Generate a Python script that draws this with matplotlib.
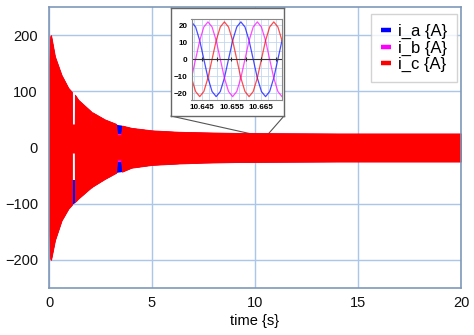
import numpy as np
import matplotlib
matplotlib.use("Agg")
import matplotlib.pyplot as plt
from matplotlib.lines import Line2D
from matplotlib.patches import ConnectionPatch
from matplotlib.ticker import MultipleLocator

plt.rcParams['font.family'] = ['Liberation Sans', 'DejaVu Sans']

# envelope of the phase currents (A) over time (s)
env_t = [0.0, 0.06, 0.1, 0.29, 0.61, 0.94, 1.11, 1.12, 1.25, 1.26, 1.42, 2.05,
         2.06, 2.08, 2.09, 2.71, 3.26, 3.30, 3.50, 3.55, 4.0, 5.0, 6.3, 7.5,
         9.0, 11.0, 14.0, 17.0, 20.0]

red_top = [140, 198, 200, 162, 129, 106, 99, 41, 41, 94, 85, 64, 41, 41, 63,
           50, 42, 22, 22, 39, 35, 30.5, 28, 27, 26, 25.5, 25, 25, 25]
red_bot = [-140, -198, -200, -165, -130, -109, -102, -9, -9, -97, -91, -71,
           -71, -71, -70, -56, -45, -21, -21, -43, -36, -31, -28.5, -27, -26,
           -25.5, -25, -25, -25]

blue_top = [140, 198, 200, 162, 129, 106, 99, 41, 41, 94, 85, 64, 41, 41, 63,
            50, 42, 41, 40, 39, 35, 30.5, 28, 27, 26, 25.5, 25, 25, 25]
blue_bot = [-140, -198, -200, -165, -130, -109, -102, -101, -98, -97, -91, -71,
            -71, -71, -70, -56, -45, -44, -43, -43, -36, -31, -28.5, -27, -26,
            -25.5, -25, -25, -25]

mag_top = [140, 198, 200, 162, 129, 106, 99, 41, 41, 94, 85, 64, 41, 41, 63,
           50, 42, 25, 25, 39, 35, 30.5, 28, 27, 26, 25.5, 25, 25, 25]
mag_bot = [-140, -198, -200, -165, -130, -109, -102, -9, -9, -97, -91, -71,
           -71, -71, -70, -56, -45, -25, -25, -43, -36, -31, -28.5, -27, -26,
           -25.5, -25, -25, -25]

# short dropout in the lower half around t = 1.2 s
gap_t = [1.12, 1.25]
gap_top = [-9, -9]
gap_bot = [-58, -58]

# zoomed window, one sample every 30 degrees of the 60 Hz cycle
zoom_t = np.linspace(10.6415, 10.6721, 23)
zoom_a = [22, 19, 11, 0, -11, -19, -22, -19, -11, 0, 11, 19, 22, 19, 11, 0,
          -11, -19, -22, -19, -11, 0, 11]
zoom_b = [-11, 0, 11, 19, 22, 19, 11, 0, -11, -19, -22, -19, -11, 0, 11, 19,
          22, 19, 11, 0, -11, -19, -22]
zoom_c = [-11, -19, -22, -19, -11, 0, 11, 19, 22, 19, 11, 0, -11, -19, -22,
          -19, -11, 0, 11, 19, 22, 19, 11]
zoom_ticks = [10.645, 10.65, 10.655, 10.66, 10.665, 10.67]

names = ['i_a {A}', 'i_b {A}', 'i_c {A}']
colors = ['#0000ff', '#ff00ff', '#ff0000']

fig = plt.figure(figsize=(4.74, 3.35), dpi=100)
ax = fig.add_axes([49 / 474, 1 - 288 / 335, 412 / 474, 281 / 335])

ax.fill_between(env_t, blue_bot, blue_top, color=colors[0], lw=0, zorder=2)
ax.fill_between(env_t, mag_bot, mag_top, color=colors[1], lw=0, zorder=2)
ax.fill_between(gap_t, gap_bot, gap_top, color='white', lw=0, zorder=2)
ax.fill_between(env_t, red_bot, red_top, facecolor=colors[2],
                edgecolor=colors[2], lw=0.6, zorder=2)

ax.set_xlim(0, 20)
ax.set_ylim(-250, 250)
ax.set_xticks([0, 5, 10, 15, 20])
ax.set_yticks([-200, -100, 0, 100, 200])
ax.grid(color='#aac6ea', lw=1, zorder=0)
ax.set_axisbelow(True)
for sp in ax.spines.values():
    sp.set_color('#7f98b8')
    sp.set_linewidth(1.2)
ax.tick_params(length=0, labelsize=10.5, colors='#111111')
ax.tick_params(axis='x', pad=5.5)
ax.tick_params(axis='y', pad=8)
ax.set_xlabel('time {s}', fontsize=10.5, labelpad=3)

handles = [Line2D([], [], color=c, lw=3.2, solid_capstyle='butt') for c in colors]
leg = ax.legend(handles, names, loc='upper right', bbox_to_anchor=(0.99, 0.975),
                borderaxespad=0, fontsize=12, fancybox=False, handlelength=0.6,
                handletextpad=0.4, borderpad=0.6, labelspacing=0.08)
leg.get_frame().set_edgecolor('#c8c8c8')
leg.get_frame().set_linewidth(1)

# inset frame and zoomed axes
frame = fig.add_axes([171 / 474, 1 - 116 / 335, 113 / 474, 108 / 335])
frame.set_xticks([])
frame.set_yticks([])
for sp in frame.spines.values():
    sp.set_color('#666666')
    sp.set_linewidth(1)

axi = fig.add_axes([191.5 / 474, 1 - 100 / 335, 90.5 / 474, 81.5 / 335])
for vals, c in zip([zoom_a, zoom_b, zoom_c], colors):
    axi.plot(zoom_t, vals, color=c, lw=0.9, alpha=0.7)
axi.axhline(0, color='#333333', lw=0.8)
axi.plot(zoom_ticks, [0] * len(zoom_ticks), '|', color='#333333', ms=3, mew=0.8)
axi.set_xlim(zoom_t[0], zoom_t[-1])
axi.set_ylim(-24, 24)
axi.set_xticks([10.645, 10.655, 10.665])
axi.set_xticklabels(['10.645', '10.655', '10.665'])
axi.set_yticks([-20, -10, 0, 10, 20])
axi.set_yticklabels(['\u221220', '\u221210', '0', '10', '20'])
axi.xaxis.set_minor_locator(MultipleLocator(0.0025))
axi.yaxis.set_minor_locator(MultipleLocator(5))
axi.grid(which='both', color='#c4d8f2', lw=0.6)
axi.set_axisbelow(True)
axi.tick_params(which='both', length=0, labelsize=5.8, pad=3)
for lab in axi.get_xticklabels() + axi.get_yticklabels():
    lab.set_fontweight('bold')
for sp in axi.spines.values():
    sp.set_color('#888888')
    sp.set_linewidth(0.8)

for xa, xb in [((0, 0), (9.9, 23.5)), ((1, 0), (10.63, 23.5))]:
    con = ConnectionPatch(xyA=xa, coordsA=frame.transAxes, xyB=xb,
                          coordsB=ax.transData, color='#555555', lw=0.8)
    con.set_zorder(1)
    ax.add_artist(con)

fig.savefig('out.png', dpi=100)
